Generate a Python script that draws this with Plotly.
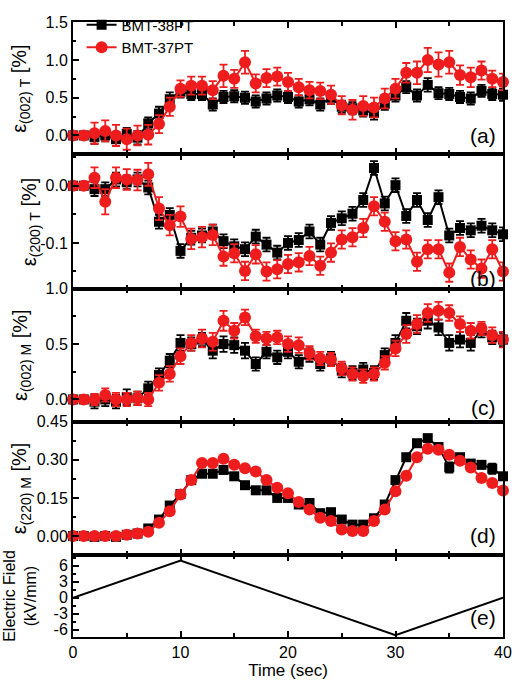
import plotly.graph_objects as go

# ---------------- data ----------------
time = list(range(41))

a_38 = [0, 0, -0.02, 0.0, -0.05, 0.02, -0.03, 0.16, 0.29, 0.48, 0.58, 0.55, 0.55, 0.41, 0.51, 0.52, 0.50, 0.45, 0.49, 0.53, 0.51,
        0.45, 0.48, 0.41, 0.50, 0.38, 0.36, 0.33, 0.30, 0.42, 0.53, 0.64, 0.53, 0.67, 0.56, 0.55, 0.51, 0.49, 0.59, 0.55, 0.54]
a_37 = [0, 0, 0.03, 0.06, 0.0, -0.05, 0.0, 0.01, 0.15, 0.38, 0.62, 0.66, 0.66, 0.60, 0.79, 0.75, 0.97, 0.69, 0.76, 0.78, 0.71,
        0.64, 0.60, 0.59, 0.54, 0.40, 0.34, 0.39, 0.37, 0.49, 0.62, 0.83, 0.83, 1.00, 0.94, 0.97, 0.80, 0.77, 0.86, 0.75, 0.71]
a_38_err = [0, 0, 0.09, 0.08, 0.09, 0.08, 0.09, 0.08, 0.09, 0.09, 0.08, 0.08, 0.08, 0.08, 0.08, 0.08, 0.08, 0.08, 0.08, 0.08, 0.08,
            0.08, 0.08, 0.08, 0.08, 0.08, 0.08, 0.08, 0.09, 0.08, 0.08, 0.08, 0.08, 0.09, 0.08, 0.08, 0.08, 0.08, 0.08, 0.08, 0.08]
a_37_err = [0, 0, 0.14, 0.14, 0.14, 0.14, 0.13, 0.13, 0.12, 0.12, 0.11, 0.12, 0.12, 0.12, 0.15, 0.12, 0.15, 0.12, 0.12, 0.12, 0.12,
            0.11, 0.11, 0.11, 0.12, 0.12, 0.13, 0.13, 0.13, 0.13, 0.13, 0.13, 0.15, 0.16, 0.16, 0.15, 0.13, 0.13, 0.12, 0.11, 0.11]

b_38 = [0, 0, -0.006, -0.006, 0.011, 0.006, 0.011, -0.003, -0.063, -0.051, -0.114, -0.091, -0.087, -0.080, -0.097, -0.106,
        -0.111, -0.089, -0.103, -0.117, -0.100, -0.095, -0.080, -0.103, -0.065, -0.057, -0.049, -0.025, 0.031, -0.031, 0.001,
        -0.053, -0.025, -0.060, -0.020, -0.087, -0.074, -0.078, -0.070, -0.078, -0.085]
b_37 = [0, 0, 0.014, -0.028, 0.014, 0.011, 0.010, 0.020, -0.040, -0.069, -0.054, -0.093, -0.090, -0.086, -0.124, -0.118,
        -0.149, -0.120, -0.150, -0.146, -0.137, -0.134, -0.123, -0.140, -0.117, -0.094, -0.090, -0.074, -0.036, -0.063, -0.097,
        -0.094, -0.133, -0.111, -0.111, -0.152, -0.107, -0.129, -0.145, -0.111, -0.150]
b_38_err = [0, 0, 0.012, 0.012, 0.012, 0.012, 0.012, 0.012, 0.012, 0.012, 0.012, 0.012, 0.012, 0.012, 0.012, 0.012,
            0.012, 0.012, 0.012, 0.012, 0.012, 0.012, 0.012, 0.012, 0.012, 0.012, 0.012, 0.012, 0.012, 0.012, 0.012,
            0.012, 0.012, 0.012, 0.012, 0.012, 0.012, 0.012, 0.012, 0.012, 0.012]
b_37_err = [0, 0, 0.018, 0.022, 0.018, 0.018, 0.018, 0.02, 0.02, 0.018, 0.018, 0.018, 0.018, 0.018, 0.016, 0.016,
            0.016, 0.016, 0.016, 0.016, 0.016, 0.016, 0.016, 0.016, 0.016, 0.016, 0.016, 0.016, 0.016, 0.016, 0.016,
            0.016, 0.016, 0.016, 0.016, 0.016, 0.016, 0.016, 0.016, 0.016, 0.016]

c_38 = [0, 0, -0.02, 0.0, -0.02, 0.02, 0.01, 0.10, 0.22, 0.35, 0.51, 0.50, 0.54, 0.44, 0.50, 0.49, 0.44, 0.32, 0.43, 0.38, 0.43,
        0.34, 0.40, 0.32, 0.37, 0.26, 0.24, 0.27, 0.24, 0.40, 0.51, 0.71, 0.66, 0.71, 0.65, 0.51, 0.54, 0.51, 0.62, 0.56, 0.54]
c_37 = [0, 0, 0.0, 0.04, 0.0, 0.0, 0.01, 0.0, 0.15, 0.23, 0.39, 0.51, 0.55, 0.52, 0.71, 0.62, 0.74, 0.57, 0.55, 0.56, 0.50,
        0.49, 0.42, 0.37, 0.36, 0.28, 0.23, 0.21, 0.23, 0.33, 0.46, 0.59, 0.68, 0.78, 0.80, 0.78, 0.68, 0.62, 0.64, 0.58, 0.54]
c_38_err = [0, 0, 0.06, 0.06, 0.06, 0.07, 0.06, 0.06, 0.06, 0.06, 0.07, 0.06, 0.06, 0.07, 0.07, 0.07, 0.07, 0.06, 0.06, 0.06, 0.06,
            0.06, 0.06, 0.06, 0.06, 0.06, 0.06, 0.06, 0.06, 0.06, 0.07, 0.07, 0.07, 0.07, 0.07, 0.07, 0.07, 0.07, 0.06, 0.06, 0.06]
c_37_err = [0, 0, 0.05, 0.06, 0.06, 0.06, 0.06, 0.06, 0.07, 0.07, 0.07, 0.07, 0.08, 0.08, 0.09, 0.07, 0.07, 0.06, 0.06, 0.06, 0.07,
            0.07, 0.06, 0.06, 0.06, 0.06, 0.06, 0.06, 0.06, 0.06, 0.07, 0.08, 0.08, 0.08, 0.08, 0.07, 0.07, 0.07, 0.06, 0.07, 0.07]

d_38 = [0, 0, -0.003, 0, -0.003, 0.005, 0.01, 0.03, 0.065, 0.12, 0.165, 0.22, 0.245, 0.245, 0.26, 0.235, 0.20, 0.18, 0.18, 0.15,
        0.15, 0.124, 0.13, 0.09, 0.094, 0.065, 0.045, 0.045, 0.07, 0.124, 0.22, 0.31, 0.365, 0.385, 0.35, 0.27, 0.31, 0.285,
        0.28, 0.265, 0.235]
d_37 = [0, 0, 0, 0, 0, 0.005, 0.01, 0.017, 0.052, 0.098, 0.163, 0.22, 0.287, 0.287, 0.304, 0.28, 0.267, 0.254, 0.22, 0.19, 0.168,
        0.134, 0.104, 0.072, 0.059, 0.026, 0.02, 0.02, 0.059, 0.104, 0.176, 0.237, 0.31, 0.343, 0.339, 0.32, 0.296, 0.27,
        0.228, 0.209, 0.179]
d_38_err = [0, 0, 0.008, 0.008, 0.008, 0.008, 0.008, 0.008, 0.008, 0.008, 0.008, 0.008, 0.008, 0.008, 0.01, 0.008, 0.008, 0.008,
            0.008, 0.008, 0.008, 0.008, 0.008, 0.008, 0.008, 0.008, 0.01, 0.01, 0.01, 0.008, 0.01, 0.01, 0.01, 0.012, 0.01, 0.02,
            0.01, 0.01, 0.01, 0.02, 0.01]
d_37_err = [0, 0, 0.006, 0.006, 0.006, 0.006, 0.006, 0.006, 0.006, 0.006, 0.006, 0.006, 0.006, 0.006, 0.008, 0.006, 0.006,
            0.006, 0.006, 0.006, 0.006, 0.006, 0.006, 0.006, 0.006, 0.006, 0.008, 0.008, 0.006, 0.006, 0.006, 0.006, 0.008,
            0.008, 0.008, 0.008, 0.006, 0.006, 0.006, 0.006, 0.006]

field_time = [0, 10, 30, 40]
field_kv = [0, 7, -7, 0]

series_names = ["BMT-38PT", "BMT-37PT"]
panel_labels = ["(a)", "(b)", "(c)", "(d)", "(e)"]
y_titles = ["ε<sub>(002) T</sub> [%]", "ε<sub>(200) T</sub> [%]", "ε<sub>(002) M</sub> [%]",
            "ε<sub>(220) M</sub> [%]", "Electric Field<br>(kV/mm)"]
x_ticks = [0, 10, 20, 30, 40]

# ---------------- figure ----------------
FONT = "Liberation Sans, Arial, sans-serif"
BLACK = "#000000"
RED = "#ee1c1c"

fig = go.Figure()

panels = [(a_38, a_37, a_38_err, a_37_err), (b_38, b_37, b_38_err, b_37_err),
          (c_38, c_37, c_38_err, c_37_err), (d_38, d_37, d_38_err, d_37_err)]

for k, (s38, s37, e38, e37) in enumerate(panels):
    ax = "" if k == 0 else str(k + 1)
    for vals, errs, name, color, sym, size in [(s38, e38, series_names[0], BLACK, "square", 10),
                                               (s37, e37, series_names[1], RED, "circle", 12)]:
        fig.add_trace(go.Scatter(
            x=time, y=vals, mode="lines+markers", name=name,
            line=dict(color=color, width=2),
            marker=dict(symbol=sym, size=size, color=color, line=dict(width=0)),
            error_y=dict(type="data", array=errs, visible=True, color=color, thickness=1.8, width=4),
            xaxis="x" + ax, yaxis="y" + ax, showlegend=(k == 0), cliponaxis=False,
        ))

fig.add_trace(go.Scatter(x=field_time, y=field_kv, mode="lines", line=dict(color=BLACK, width=2),
                         xaxis="x5", yaxis="y5", showlegend=False))

# plot area geometry
L, R, T, B = 73, 10, 8, 51
W, H = 520, 688
pw, ph = W - L - R, H - T - B
bottom = H - B
bounds = [8.3, 143.3, 280.7, 416.7, 553.3, 636.7]


def py(p):
    return (bottom - p) / ph


def px(p):
    return (p - L) / pw


domains = []
for k in range(5):
    lo = max(0.0, py(bounds[k + 1]))
    hi = min(1.0, py(bounds[k]))
    domains.append([lo, hi])

y_cfg = [
    dict(range=[-0.25, 1.5], tickvals=[0, 0.5, 1.0, 1.5], ticktext=["0.0", "0.5", "1.0", "1.5"], minor=[0.25, 0.75, 1.25]),
    dict(range=[-0.18, 0.055], tickvals=[-0.1, 0.0], ticktext=["-0.1", "0.0"], minor=[-0.15, -0.05, 0.05]),
    dict(range=[-0.2, 1.0], tickvals=[0, 0.5, 1.0], ticktext=["0.0", "0.5", "1.0"], minor=[-0.25, 0.25, 0.75]),
    dict(range=[-0.075, 0.45], tickvals=[0, 0.15, 0.30, 0.45], ticktext=["0.00", "0.15", "0.30", "0.45"],
         minor=[0.075, 0.225, 0.375]),
    dict(range=[-7.3, 8.0], tickvals=[-6, -3, 0, 3, 6], ticktext=["-6", "-3", "0", "3", "6"],
         minor=[-7.5, -4.5, -1.5, 1.5, 4.5, 7.5]),
]

layout = dict(
    width=W, height=H, margin=dict(l=L, r=R, t=T, b=B),
    paper_bgcolor="white", plot_bgcolor="white",
    font=dict(family=FONT, size=16, color=BLACK),
    showlegend=True,
    legend=dict(x=0.02, y=1.022, xanchor="left", yanchor="top", bgcolor="rgba(0,0,0,0)",
                font=dict(size=15, family=FONT), tracegroupgap=0, itemwidth=30),
)

for k in range(5):
    ax = "" if k == 0 else str(k + 1)
    xa = dict(
        domain=[0, 1], anchor="y" + ax, range=[0, 40],
        tickvals=x_ticks, ticktext=[str(v) for v in x_ticks], showticklabels=(k == 4),
        ticks="inside", ticklen=6, tickwidth=2, tickcolor=BLACK,
        minor=dict(tickvals=[5, 15, 25, 35], ticks="inside", ticklen=4, tickwidth=2, tickcolor=BLACK),
        showline=True, linewidth=2, linecolor=BLACK, mirror="allticks",
        showgrid=False, zeroline=False, tickfont=dict(size=16),
    )
    if k == 4:
        xa["title"] = dict(text="Time (sec)", font=dict(size=17), standoff=4)
    if k > 0:
        xa["matches"] = "x"
    layout["xaxis" + ax] = xa
    cfg = y_cfg[k]
    layout["yaxis" + ax] = dict(
        domain=domains[k], anchor="x" + ax, range=cfg["range"],
        tickvals=cfg["tickvals"], ticktext=cfg["ticktext"],
        ticks="inside", ticklen=6, tickwidth=2, tickcolor=BLACK,
        minor=dict(tickvals=cfg["minor"], ticks="inside", ticklen=3, tickwidth=2, tickcolor=BLACK),
        showline=True, linewidth=2, linecolor=BLACK, mirror=True,
        showgrid=False, zeroline=False, tickfont=dict(size=16),
    )

fig.update_layout(**layout)

# panel labels
label_y = [124, 270, 402, 533, 617]
for k, lab in enumerate(panel_labels):
    fig.add_annotation(x=px(505), y=py(label_y[k]), xref="paper", yref="paper", text=lab,
                       showarrow=False, xanchor="right", yanchor="middle", font=dict(size=21, family=FONT))

# y titles
title_pos = [(20, 75.5), (30, 212), (20, 348.7), (20, 485), (19, 595)]
for k, t in enumerate(y_titles):
    fig.add_annotation(x=px(title_pos[k][0]), y=py(title_pos[k][1]), xref="paper", yref="paper", text=t,
                       showarrow=False, textangle=-90, xanchor="center", yanchor="middle",
                       font=dict(size=20 if k < 4 else 16, family=FONT))

fig.write_html("out.html")
